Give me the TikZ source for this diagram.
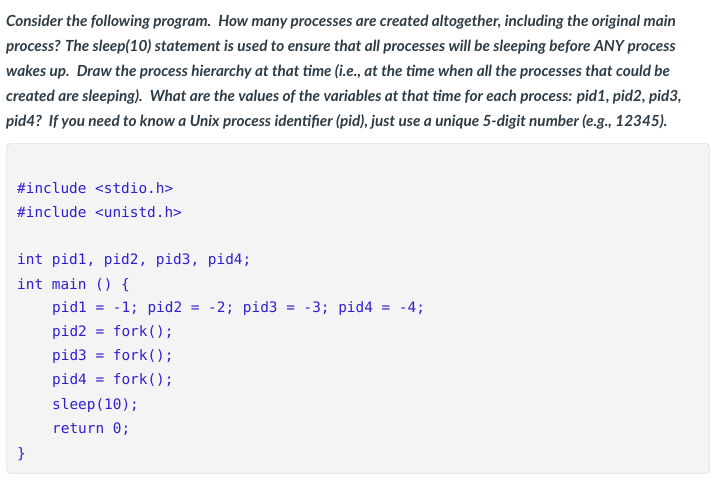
\documentclass[tikz,border=0pt]{standalone}
\usepackage{fontspec}
\setmainfont{Lato}
\newfontfamily\codefont{DejaVu Sans Mono}
\definecolor{codeblue}{HTML}{2F1FD0}
\definecolor{boxfill}{HTML}{F4F4F4}
\definecolor{boxline}{HTML}{CCCCCC}
\definecolor{txt}{HTML}{2D3B45}
\begin{document}
\begin{tikzpicture}[x=1pt,y=-1pt,
  para/.style={anchor=west,inner sep=0pt,font=\fontsize{15.3}{17}\selectfont\bfseries\itshape,text=txt},
  code/.style={anchor=west,inner sep=0pt,font=\fontsize{14.4}{16}\selectfont\codefont,text=codeblue}]
\useasboundingbox (0,0) rectangle (720,496);
\fill[white] (0,0) rectangle (720,496);
\node[para] (l1) at (6,22) {Consider the following program.\, How many processes are created altogether, including the original main};
\node[para] (l2) at (6,47) {process? The sleep(10) statement is used to ensure that all processes will be sleeping before ANY process};
\node[para] (l3) at (6,72) {wakes up.\, Draw the process hierarchy at that time (i.e., at the time when all the processes that could be};
\node[para] (l4) at (6,97) {created are sleeping).\, What are the values of the variables at that time for each process: pid1, pid2, pid3,};
\node[para] (l5) at (6,122) {pid4?\, If you need to know a Unix process identifier (pid), just use a unique 5-digit number (e.g., 12345).};
\draw[boxline,fill=boxfill,rounded corners=4pt] (6.5,143.5) rectangle (709.5,473.5);
\node[code] (c1) at (17,188) {\#include <stdio.h>};
\node[code] (c2) at (17,212) {\#include <unistd.h>};
\node[code] (c3) at (17,261) {int pid1, pid2, pid3, pid4;};
\node[code] (c4) at (17,285) {int main () \{};
\node[code] (c5) at (52,309) {pid1 = -1; pid2 = -2; pid3 = -3; pid4 = -4;};
\node[code] (c6) at (52,333) {pid2 = fork();};
\node[code] (c7) at (52,357) {pid3 = fork();};
\node[code] (c8) at (52,381) {pid4 = fork();};
\node[code] (c9) at (52,405) {sleep(10);};
\node[code] (c10) at (52,429) {return 0;};
\node[code] (c11) at (17,454) {\}};
\end{tikzpicture}
\end{document}
